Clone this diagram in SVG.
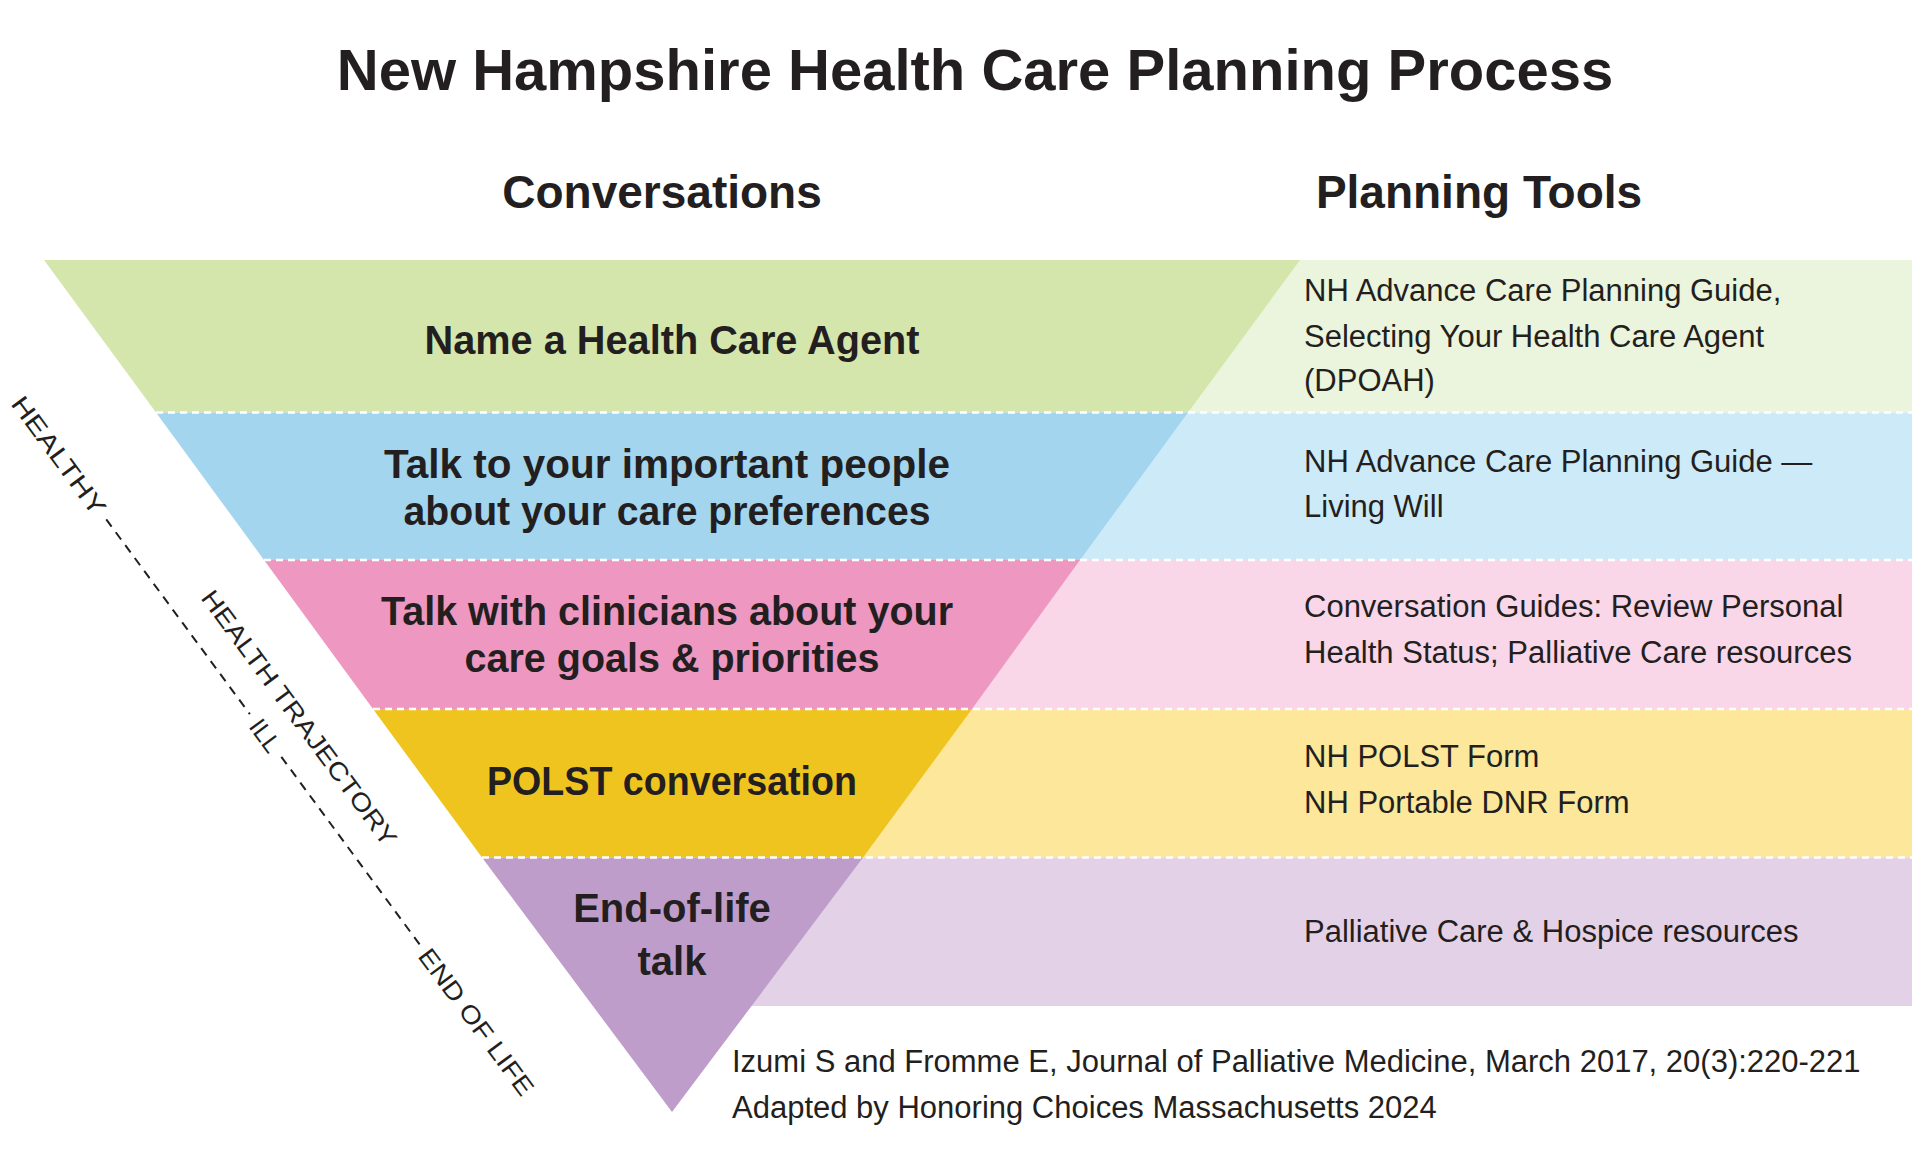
<svg xmlns="http://www.w3.org/2000/svg" width="1932" height="1157" viewBox="0 0 1932 1157">
<style>
.t{font-family:"Liberation Sans",Arial,sans-serif;fill:#231f20}
.h{font-weight:bold;text-anchor:middle}
.c{font-weight:bold;font-size:40px;text-anchor:middle}
.r{font-size:31px}
.s{font-size:25px}
.d{stroke:#fff;stroke-width:2.5;stroke-dasharray:7 5}
.k{stroke:#231f20;stroke-width:2;stroke-dasharray:9 7}
</style>
<rect width="1932" height="1157" fill="#fff"/>
<text class="t h" x="975" y="90" font-size="58">New Hampshire Health Care Planning Process</text>
<text class="t h" x="662" y="208" font-size="46">Conversations</text>
<text class="t h" x="1479" y="208" font-size="46">Planning Tools</text>
<g id="band1"><rect x="1190" y="260" width="722" height="152.5" fill="#ebf4dc"/><polygon points="44,260 1300,260 1188,412.5 156,412.5" fill="#d5e6ad"/>
<text class="t c" x="672" y="354" textLength="495" lengthAdjust="spacingAndGlyphs">Name a Health Care Agent</text>
<text class="t r" x="1304" y="301">NH Advance Care Planning Guide,</text><text class="t r" x="1304" y="347">Selecting Your Health Care Agent</text><text class="t r" x="1304" y="391">(DPOAH)</text></g>
<g id="band2"><rect x="1080" y="412.5" width="832" height="147.5" fill="#cdeaf9"/><polygon points="156,412.5 1188,412.5 1080,560 264,560" fill="#a3d5ee"/>
<text class="t c" x="667" y="478" textLength="566" lengthAdjust="spacingAndGlyphs">Talk to your important people</text>
<text class="t c" x="667" y="525" textLength="527" lengthAdjust="spacingAndGlyphs">about your care preferences</text>
<text class="t r" x="1304" y="472">NH Advance Care Planning Guide —</text><text class="t r" x="1304" y="517">Living Will</text></g>
<g id="band3"><rect x="970" y="560" width="942" height="149" fill="#f9d6e8"/><polygon points="264,560 1080,560 972,709 373,709" fill="#ee97c1"/>
<text class="t c" x="667" y="625" textLength="572" lengthAdjust="spacingAndGlyphs">Talk with clinicians about your</text>
<text class="t c" x="672" y="672" textLength="415" lengthAdjust="spacingAndGlyphs">care goals &amp; priorities</text>
<text class="t r" x="1304" y="617">Conversation Guides: Review Personal</text><text class="t r" x="1304" y="663">Health Status; Palliative Care resources</text></g>
<g id="band4"><rect x="860" y="709" width="1052" height="148.5" fill="#fce79a"/><polygon points="373,709 972,709 863,857.5 482,857.5" fill="#f0c41f"/>
<text class="t c" x="672" y="795" textLength="370" lengthAdjust="spacingAndGlyphs">POLST conversation</text>
<text class="t r" x="1304" y="767">NH POLST Form</text><text class="t r" x="1304" y="813">NH Portable DNR Form</text></g>
<g id="band5"><rect x="750" y="857.5" width="1162" height="148.5" fill="#e3d1e7"/><polygon points="482,857.5 863,857.5 672,1112" fill="#bf9dcb"/>
<text class="t c" x="672" y="922">End-of-life</text><text class="t c" x="672" y="975">talk</text>
<text class="t r" x="1304" y="942">Palliative Care &amp; Hospice resources</text></g>
<g id="connectors">
<line class="d" x1="156" y1="412.5" x2="1912" y2="412.5"/>
<line class="d" x1="264" y1="560" x2="1912" y2="560"/>
<line class="d" x1="373" y1="709" x2="1912" y2="709"/>
<line class="d" x1="482" y1="857.5" x2="1912" y2="857.5"/>
</g>
<g id="trajectory" transform="translate(10,404) rotate(53.6)">
<text class="t s" x="0" y="0" textLength="141" lengthAdjust="spacingAndGlyphs">HEALTHY</text>
<line class="k" x1="150" y1="-9" x2="392" y2="-9"/>
<text class="t s" x="401" y="0">ILL</text>
<line class="k" x1="445" y1="-9" x2="680" y2="-9"/>
<text class="t s" x="686" y="0" textLength="176" lengthAdjust="spacingAndGlyphs">END OF LIFE</text>
</g>
<g id="trajectory-label" transform="translate(200,598) rotate(53.6)">
<text class="t s" x="0" y="0" textLength="311" lengthAdjust="spacingAndGlyphs">HEALTH TRAJECTORY</text>
</g>
<g id="citation">
<text class="t r" x="732" y="1072">Izumi S and Fromme E, Journal of Palliative Medicine, March 2017, 20(3):220-221</text>
<text class="t r" x="732" y="1118">Adapted by Honoring Choices Massachusetts 2024</text>
</g>
</svg>
